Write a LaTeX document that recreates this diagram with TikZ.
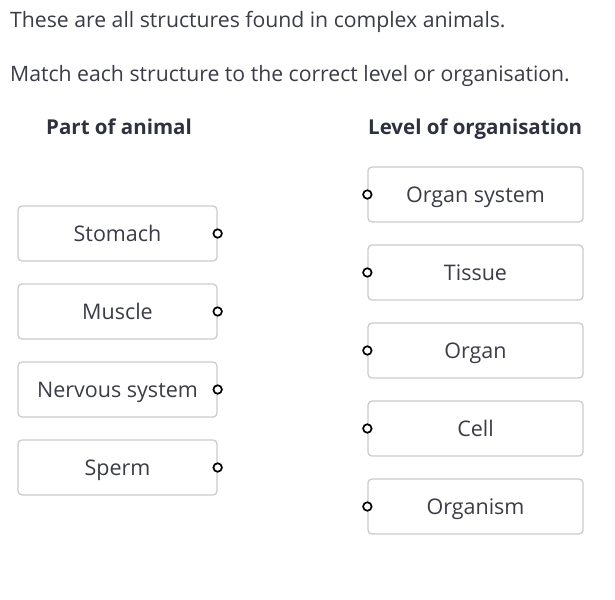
\documentclass[tikz,border=0pt]{standalone}
\usepackage{fontspec}
\setmainfont{Open Sans}
\definecolor{txt}{HTML}{3A3D47}
\definecolor{hdr}{HTML}{2E3240}
\definecolor{boxline}{HTML}{CCCCCC}
\begin{document}
\begin{tikzpicture}[x=1pt,y=-1pt,
  qtext/.style={anchor=base west,inner sep=0pt,text=txt,font=\fontsize{21.2}{25}\selectfont},
  hdrtext/.style={anchor=base west,inner sep=0pt,text=hdr,font=\fontsize{20.5}{25}\selectfont\bfseries},
  boxbase/.style={draw=boxline,line width=1.3pt,rounded corners=4pt,minimum height=55pt,inner sep=0pt,text height=15pt,text depth=0pt,text=txt,font=\fontsize{21.5}{25}\selectfont},
  lbox/.style={boxbase,minimum width=199pt},
  rbox/.style={boxbase,minimum width=215pt},
  dot/.style={circle,draw=black,fill=white,line width=1.7pt,minimum size=8.5pt,inner sep=0pt}]
\useasboundingbox (0,0) rectangle (615,599);
\fill[white] (0,0) rectangle (615,599);
\node[qtext] (q1) at (10,28) {These are all structures found in complex animals.};
\node[qtext] (q2) at (10,82) {Match each structure to the correct level or organisation.};
\node[hdrtext] (h1) at (46,135) {Part of animal};
\node[hdrtext] (h2) at (368,135) {Level of organisation};
% left boxes
\node[lbox] (stomach) at (117.5,233.5) {Stomach};
\node[lbox] (muscle) at (117.5,311.5) {Muscle};
\node[lbox] (nervous) at (117.5,389.5) {Nervous system};
\node[lbox] (sperm) at (117.5,467.5) {Sperm};
\node[dot] (d1) at (stomach.east) {};
\node[dot] (d2) at (muscle.east) {};
\node[dot] (d3) at (nervous.east) {};
\node[dot] (d4) at (sperm.east) {};
% right boxes
\node[rbox] (orgsys) at (475.5,194.5) {Organ system};
\node[rbox] (tissue) at (475.5,272.5) {Tissue};
\node[rbox] (organ) at (475.5,350.5) {Organ};
\node[rbox] (cell) at (475.5,428.5) {Cell};
\node[rbox] (organism) at (475.5,506.5) {Organism};
\node[dot] (e1) at (orgsys.west) {};
\node[dot] (e2) at (tissue.west) {};
\node[dot] (e3) at (organ.west) {};
\node[dot] (e4) at (cell.west) {};
\node[dot] (e5) at (organism.west) {};
\end{tikzpicture}
\end{document}
